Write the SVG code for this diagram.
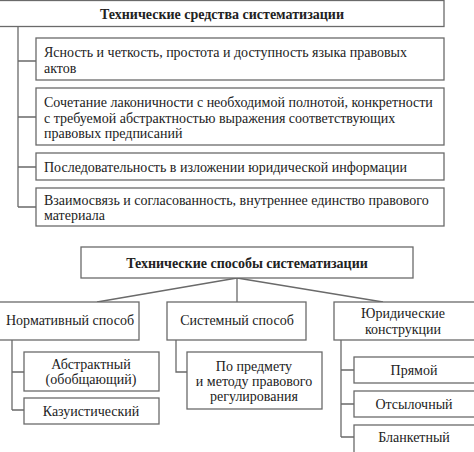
<svg xmlns="http://www.w3.org/2000/svg" width="474" height="452" viewBox="0 0 474 452">
<style>
rect{fill:#fff;stroke:#6a6a6a;stroke-width:1.3}
.c line,.c path{stroke:#6a6a6a;stroke-width:1.3;fill:none}
text{font-family:"Liberation Serif",serif;font-size:14px;fill:#222}
.h{font-weight:bold}
.m{text-anchor:middle}
</style>
<rect x="0" y="0" width="474" height="452" style="fill:#fff;stroke:none"/>
<g class="c" id="connectors">
<path d="M18 27V207M18 61H36M18 117H36M18 167H36M18 207H36"/>
<path d="M237 278L97 302M237 278V302M237 278L383 302"/>
<path d="M12 340V410M12 372H24M12 410H24"/>
<path d="M176 340V372H187"/>
<path d="M341 340V437M341 370H354M341 404H354M341 437H354"/>
</g>
<g id="n0"><rect x="-5" y="0.5" width="449" height="26"/><text class="h m" x="222" y="19">Технические средства систематизации</text></g>
<g id="n1"><rect x="36" y="38" width="408" height="42"/><text x="44" y="57">Ясность и четкость, простота и доступность языка правовых</text><text x="44" y="73">актов</text></g>
<g id="n2"><rect x="36" y="88" width="408" height="57"/><text x="44" y="107">Сочетание лаконичности с необходимой полнотой, конкретности</text><text x="44" y="123">с требуемой абстрактностью выражения соответствующих</text><text x="44" y="138">правовых предписаний</text></g>
<g id="n3"><rect x="36" y="153" width="408" height="27"/><text x="44" y="172">Последовательность в изложении юридической информации</text></g>
<g id="n4"><rect x="36" y="188" width="408" height="38"/><text x="44" y="205">Взаимосвязь и согласованность, внутреннее единство правового</text><text x="44" y="220">материала</text></g>
<g id="n5"><rect x="81" y="247" width="332" height="31"/><text class="h m" x="247" y="268">Технические способы систематизации</text></g>
<g id="n6"><rect x="-5" y="302" width="144" height="38"/><text class="m" x="70" y="325">Нормативный способ</text></g>
<g id="n7"><rect x="167" y="302" width="139" height="38"/><text class="m" x="237" y="325">Системный способ</text></g>
<g id="n8"><rect x="334" y="302" width="146" height="38"/><text class="m" x="403" y="318">Юридические</text><text class="m" x="403" y="334">конструкции</text></g>
<g id="n9"><rect x="24" y="352" width="135" height="39"/><text class="m" x="91" y="369">Абстрактный</text><text class="m" x="91" y="384">(обобщающий)</text></g>
<g id="n10"><rect x="24" y="398" width="135" height="26"/><text class="m" x="91" y="416">Казуистический</text></g>
<g id="n11"><rect x="187" y="352" width="135" height="57"/><text class="m" x="254" y="371">По предмету</text><text class="m" x="254" y="386">и методу правового</text><text class="m" x="254" y="401">регулирования</text></g>
<g id="n12"><rect x="354" y="357" width="126" height="26"/><text class="m" x="414" y="375">Прямой</text></g>
<g id="n13"><rect x="354" y="391" width="126" height="26"/><text class="m" x="414" y="409">Отсылочный</text></g>
<g id="n14"><rect x="354" y="425" width="126" height="30"/><text class="m" x="414" y="442">Бланкетный</text></g>
</svg>
